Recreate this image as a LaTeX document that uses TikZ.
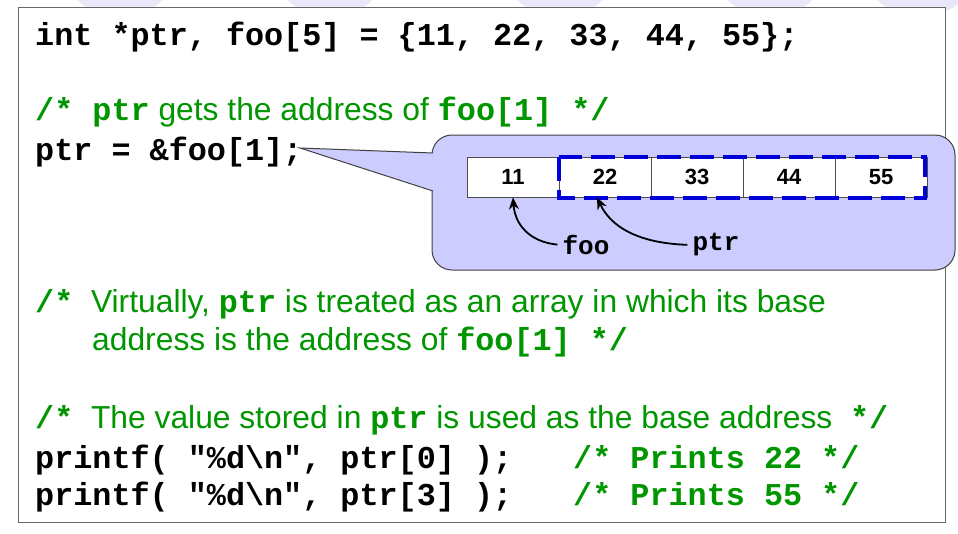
\documentclass[tikz,border=0pt]{standalone}
\usepackage{fontspec}
\setmainfont{Liberation Sans}
\setmonofont{Liberation Mono}
\usetikzlibrary{arrows.meta}
\definecolor{cgreen}{RGB}{0,150,0}
\definecolor{lav}{RGB}{204,204,255}
\definecolor{bgc}{RGB}{232,232,250}
\newcommand{\mb}[1]{{\ttfamily\bfseries #1}}
\begin{document}
\begin{tikzpicture}[x=1pt,y=-1pt,
  code/.style={anchor=base west,inner sep=0pt,font=\fontsize{31.8}{36}\selectfont},
  cell/.style={draw=black!70,fill=white,minimum width=91.6pt,minimum height=40pt,inner sep=0pt,anchor=north west,font=\fontsize{22}{26}\selectfont\bfseries},
  lbl/.style={inner sep=1pt,font=\fontsize{26}{30}\selectfont\ttfamily\bfseries},
  parr/.style={-{Stealth[length=12pt,width=10pt]},line width=1.8pt}]
\useasboundingbox (0,0) rectangle (958,533);
\fill[white] (0,0) rectangle (958,533);
\foreach \cx in {120,330,560,770,920} \fill[bgc] (\cx,-45) circle (62);
\draw[fill=white,draw=black!60,line width=1pt] (18,7) rectangle (945,522);
% code lines
\node[code] (l1) at (35,45) {\mb{int *ptr, foo[5] = \{11, 22, 33, 44, 55\};}};
\node[code,text=cgreen] (l2) at (35,120) {\mb{/* ptr} gets the address of \mb{foo[1] */}};
\node[code] (l3) at (35,160) {\mb{ptr = \&foo[1];}};
\node[code,text=cgreen] (l4) at (35,312) {\mb{/*} \ Virtually, \mb{ptr} is treated as an array in which its base};
\node[code,text=cgreen] (l5) at (92,350) {address is the address of \mb{foo[1] */}};
\node[code,text=cgreen] (l6) at (35,428) {\mb{/*} \ The value stored in \mb{ptr} is used as the base address \ \mb{*/}};
\node[code] (l7) at (35,468) {\mb{printf( "\%d\textbackslash n", ptr[0] );}};
\node[code] (l8) at (35,505) {\mb{printf( "\%d\textbackslash n", ptr[3] );}};
\node[code,text=cgreen] (c7) at (573,468) {\mb{/* Prints 22 */}};
\node[code,text=cgreen] (c8) at (573,505) {\mb{/* Prints 55 */}};
% callout
\draw[fill=lav,draw=black!75,line width=1pt,rounded corners=20pt] (432,135) rectangle (955,270);
\coordinate (tip) at (300,148);
\fill[lav] (tip) -- (433.5,153) -- (433.5,191) -- cycle;
\draw[black!75,line width=1pt] (433,153) -- (tip) -- (433,191);
% array
\node[cell] (a1) at (467,157) {11};
\node[cell] (a2) at (a1.north east) {22};
\node[cell] (a3) at (a2.north east) {33};
\node[cell] (a4) at (a3.north east) {44};
\node[cell] (a5) at (a4.north east) {55};
\draw[blue!85!black,line width=4pt,dash pattern=on 24pt off 9pt] (a2.north west) rectangle ([xshift=-2pt,yshift=-1pt]a5.south east);
% labels
\node[lbl] (foo) at (586,245) {foo};
\node[lbl] (ptr) at (716,245) {ptr};
\draw[parr,shorten <=4pt] (foo.west) .. controls (530,242) and (515,225) .. (a1.south);
\draw[parr,shorten <=4pt] (ptr.west) .. controls (635,243) and (610,225) .. ([xshift=-8pt]a2.south);
\end{tikzpicture}
\end{document}
